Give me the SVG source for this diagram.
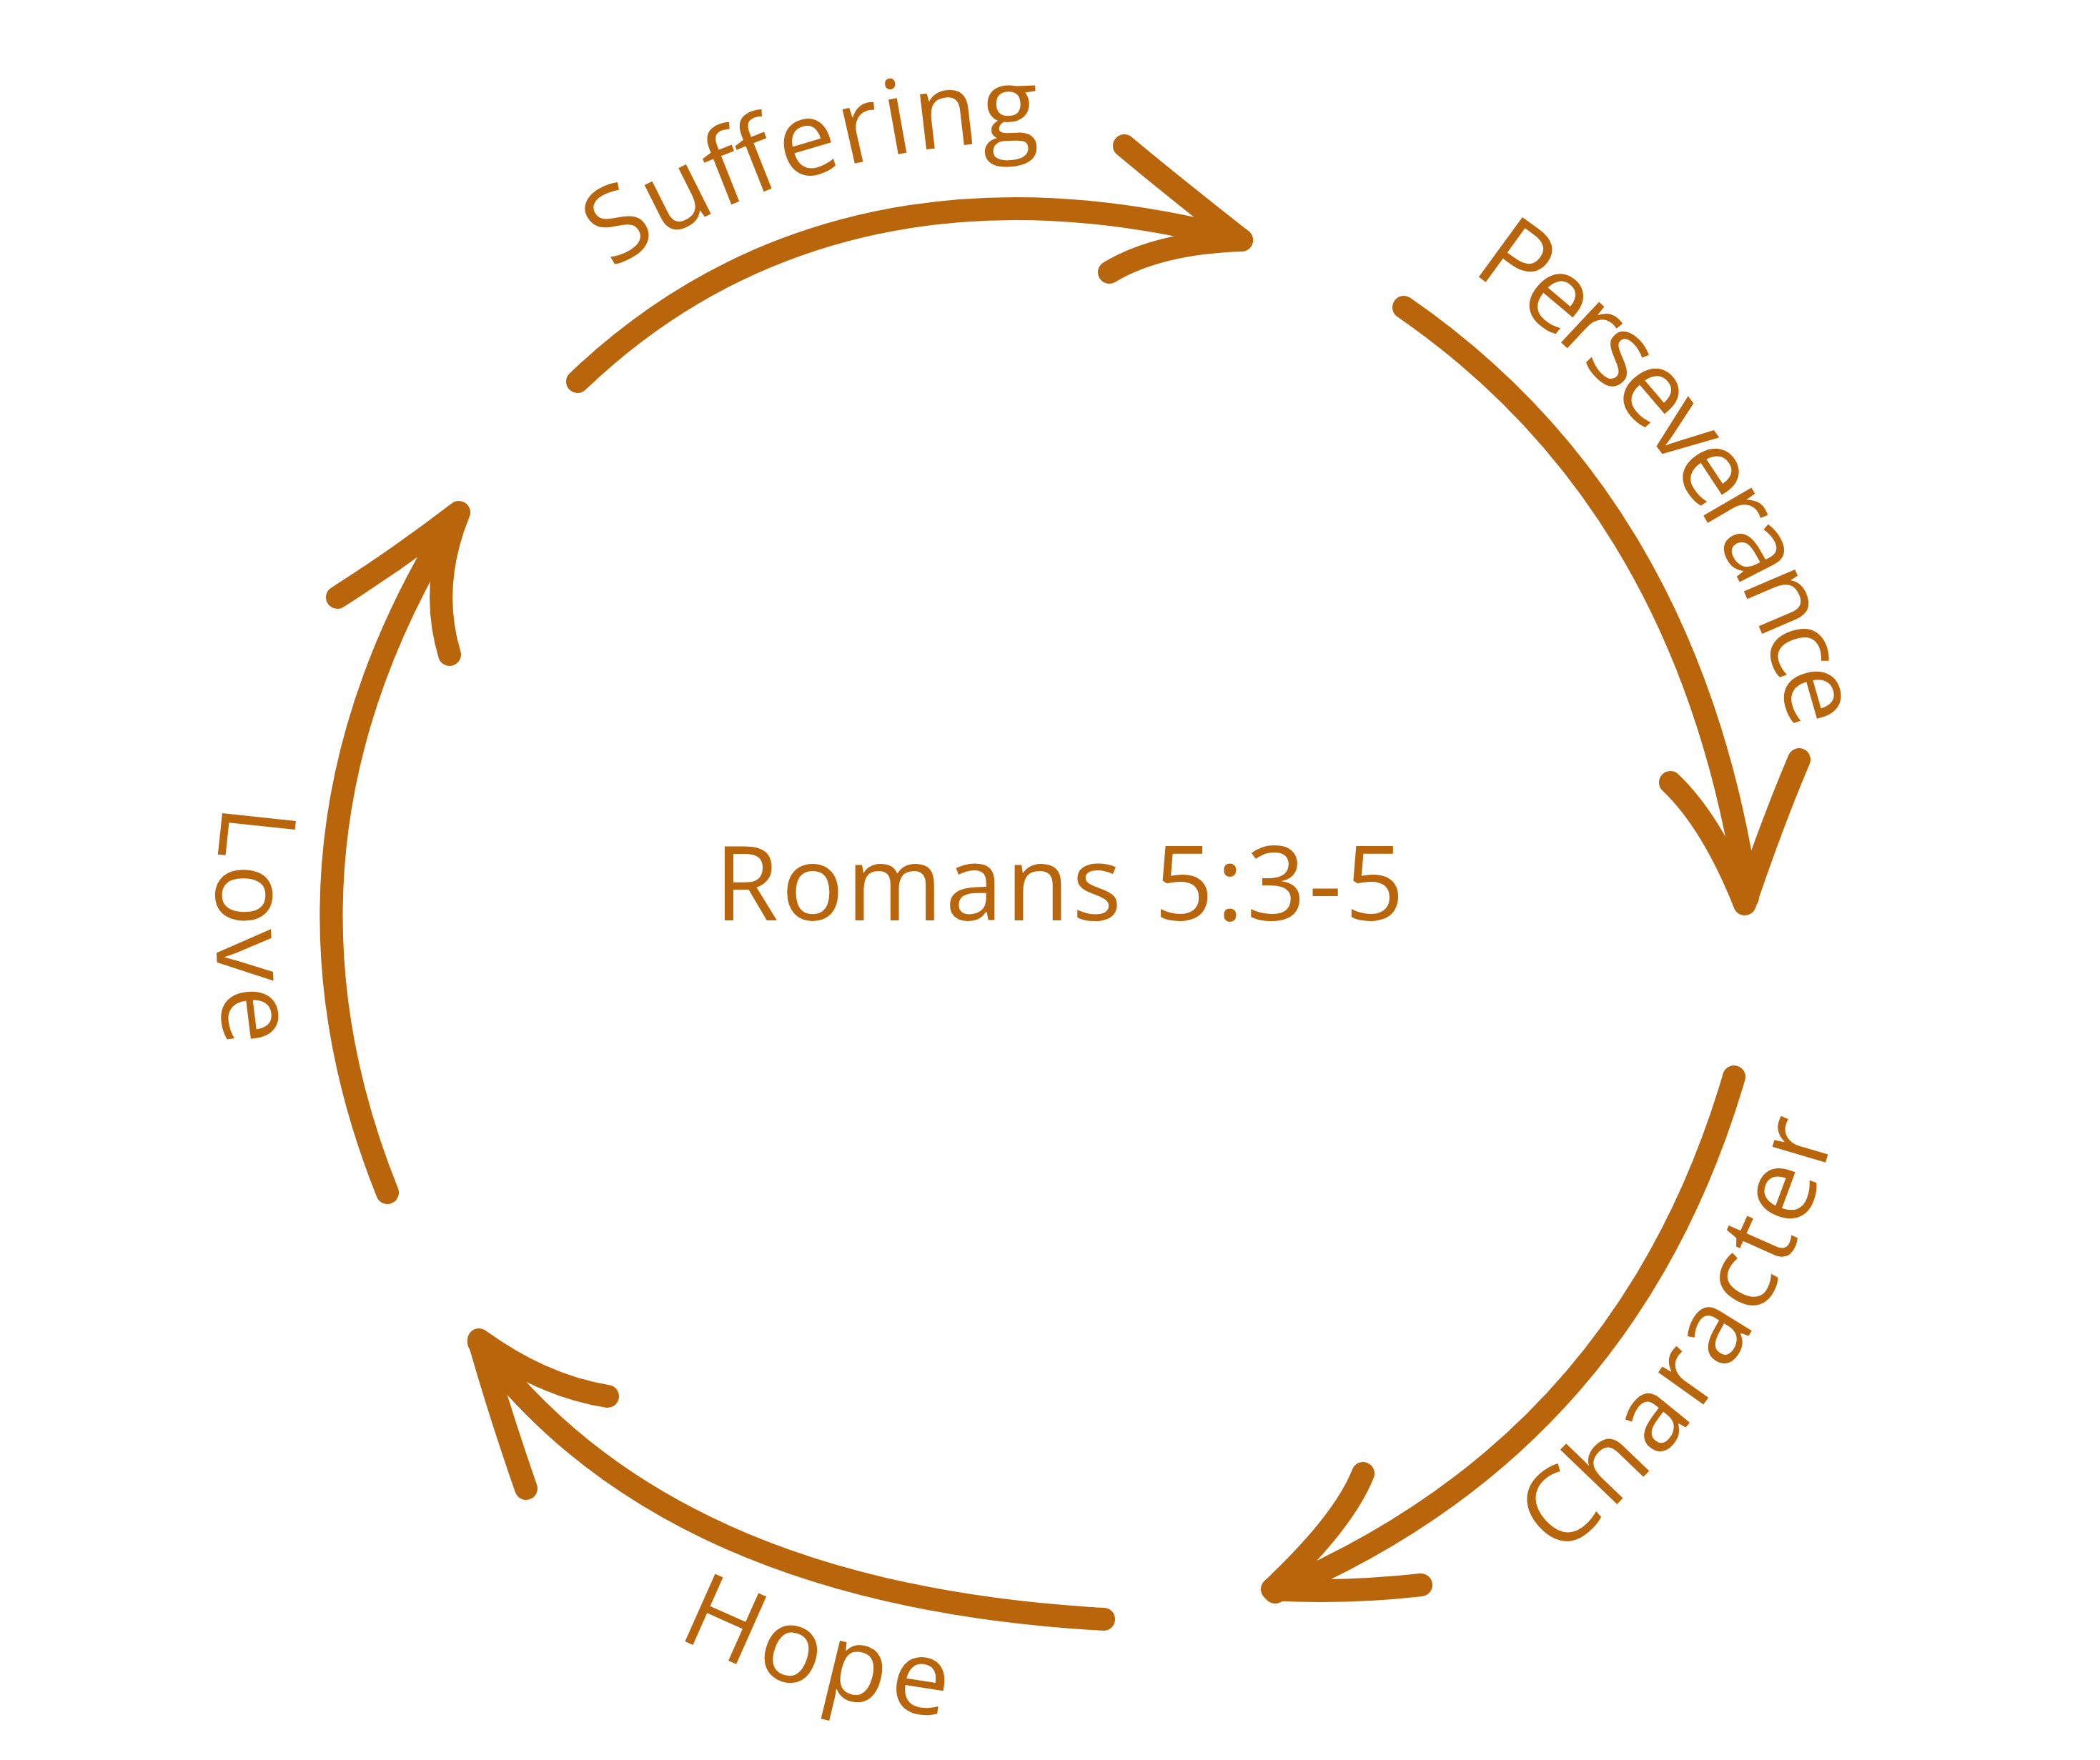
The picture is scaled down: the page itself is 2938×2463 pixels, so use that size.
<svg xmlns="http://www.w3.org/2000/svg" width="2938" height="2463" viewBox="0 0 2938 2463">
<style>
.c{fill:none;stroke:#B8650B;stroke-width:32;stroke-linecap:round;stroke-linejoin:round}
.t{fill:#B8650B;font-family:"Open Sans","Liberation Sans",sans-serif;font-size:145px}
</style>
<defs>
<path id="p1" d="M856,377 A1086,1086 0 0 1 1454,198"/>
<path id="p2" d="M2057,380 A1086,1086 0 0 1 2508,1023"/>
<path id="p3" d="M2179,2179 A1152,1152 0 0 0 2567,1582"/>
<path id="p4" d="M946,2290 A1130,1130 0 0 0 1315,2402"/>
<path id="p5" d="M313,1124 A1152,1152 0 0 0 316,1464"/>
</defs>
<rect width="2938" height="2463" fill="#fff"/>
<g id="connectors">
<path class="c" d="M808,534 C1000,350 1300,220 1737,336"/>
<path class="c" d="M1573,204 Q1640,260 1737,336 Q1620,340 1552,381"/>
<path class="c" d="M1964,430 Q2364,706 2445,1256"/>
<path class="c" d="M2337,1095 Q2395,1150 2441,1265 Q2480,1150 2517,1063"/>
<path class="c" d="M2426,1507 Q2275,2022 1784,2228"/>
<path class="c" d="M1907,2062 Q1880,2130 1780,2224 Q1880,2230 1988,2218"/>
<path class="c" d="M1544,2266 Q933,2232 670,1879"/>
<path class="c" d="M850,1954 Q760,1940 670,1875 Q700,1980 736,2083"/>
<path class="c" d="M542,1669 Q347,1183 636,723"/>
<path class="c" d="M472,836 Q560,780 642,717 Q600,820 629,916"/>
</g>
<g id="center"><text class="t" x="1484" y="1288" text-anchor="middle" font-size="118" letter-spacing="4">Romans 5:3-5</text></g>
<g id="suffering"><text class="t"><textPath href="#p1" textLength="633" lengthAdjust="spacing">Suffering</textPath></text></g>
<g id="perseverance"><text class="t"><textPath href="#p2" textLength="804" lengthAdjust="spacing">Perseverance</textPath></text></g>
<g id="character"><text class="t"><textPath href="#p3" textLength="724" lengthAdjust="spacing">Character</textPath></text></g>
<g id="hope"><text class="t"><textPath href="#p4" textLength="394" lengthAdjust="spacing">Hope</textPath></text></g>
<g id="love"><text class="t"><textPath href="#p5" textLength="343" lengthAdjust="spacing">Love</textPath></text></g>
</svg>
